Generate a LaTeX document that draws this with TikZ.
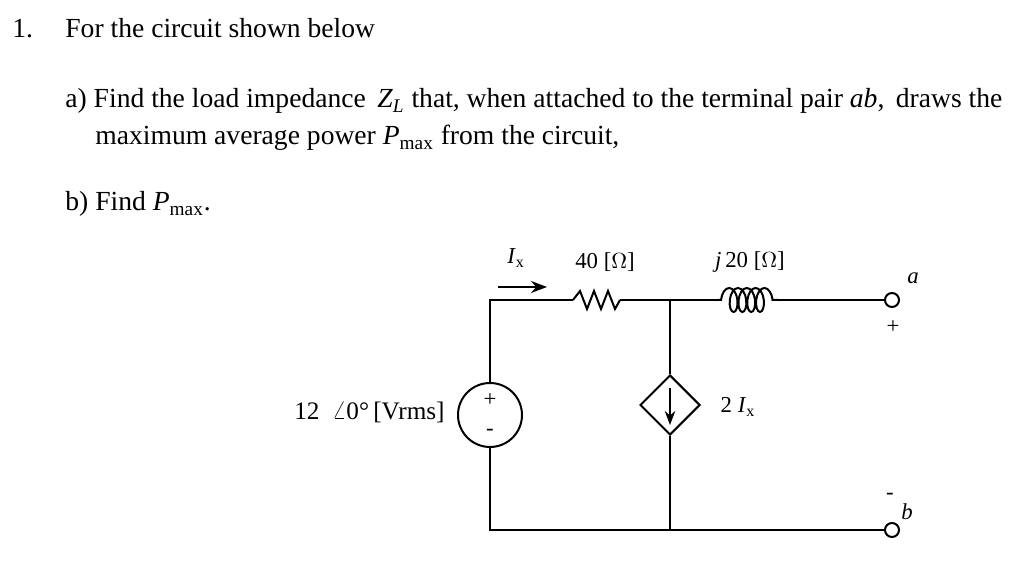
\documentclass[tikz,border=0pt]{standalone}
\usepackage{fontspec}
\setmainfont{Liberation Serif}
\usetikzlibrary{decorations.pathmorphing,arrows.meta,shapes.geometric}
\tikzset{
  txt/.style={anchor=base west,inner sep=0pt,font=\fontsize{13.8}{16}\selectfont},
  lbl/.style={inner sep=0pt,font=\fontsize{11.4}{13}\selectfont},
  wire/.style={line width=1pt},
  term/.style={circle,draw,line width=1pt,fill=white,minimum size=7pt,inner sep=0pt}
}
\begin{document}
\begin{tikzpicture}[x=0.5pt,y=-0.5pt]
    \useasboundingbox (0,0) rectangle (1024,587);
    % problem text
    \node[txt] (num) at (12,38) {1.};
    \node[txt] (head) at (65,38) {For the circuit shown below};
    \node[txt] (pa) at (65,108) {a) Find the load impedance \,\textit{Z}\textsubscript{\textit{L}} that, when attached to the terminal pair \textit{ab}, \,draws the};
    \node[txt] (pa2) at (95,145) {maximum average power \textit{P}\textsubscript{max} from the circuit,};
    \node[txt] (pb) at (65,211) {b) Find \textit{P}\textsubscript{max}.};

    % nodes of the circuit
    \coordinate (tl) at (490,300);
    \coordinate (bl) at (490,530);
    \coordinate (tm) at (670,300);
    \coordinate (bm) at (670,530);
    \node[circle,draw,line width=1pt,minimum size=32pt,inner sep=0pt] (src) at (490,415) {};
    \node[draw,diamond,line width=1pt,minimum size=30pt,inner sep=0pt,shape aspect=1] (cs) at (670,405) {};
    \node[term] (ta) at (892,300) {};
    \node[term] (tb) at (892,530) {};
    \coordinate (r1) at (573,300);
    \coordinate (r2) at (620,300);
    \coordinate (l1) at (718,300);
    \coordinate (l2) at (778,300);

    % wires
    \draw[wire] (src.north) -- (tl) -- (r1);
    \draw[wire] (r1) -- ++(7,-9) -- ++(7,18) -- ++(7,-18) -- ++(7,18) -- ++(7,-18) -- ++(7,18) -- (r2);
    \draw[wire] (r2) -- (tm) -- (l1);
    \draw[wire,decorate,decoration={coil,aspect=0.5,segment length=4.4pt,amplitude=6pt,pre length=1.5pt,post length=1.5pt}] (l1) -- (l2);
    \draw[wire] (l2) -- (ta.west);
    \draw[wire] (tm) -- (cs.north);
    \draw[wire] (cs.south) -- (bm);
    \draw[wire] (src.south) -- (bl) -- (bm) -- (tb.west);
    \draw[wire,-{Stealth[length=7pt]}] (670,388) -- (670,425);
    \draw[wire,-{Stealth[length=8pt]}] (498,287) -- (547,287);

    % labels
    \node[lbl] at (490,400) {+};
    \node[lbl] at (490,432) {-};
    \node[lbl,anchor=east,font=\fontsize{12.6}{14}\selectfont] (vs) at (445,412) {12 \ $\angle$0\textdegree\,[Vrms]};
    \node[lbl] (ix) at (516,258) {\textit{I}\textsubscript{x}};
    \node[lbl] (rl) at (605,262) {40 [$\Omega$]};
    \node[lbl] (ll) at (750,262) {\textit{j}\,20 [$\Omega$]};
    \node[lbl] (gl) at (738,407) {2 \textit{I}\textsubscript{x}};
    \node[lbl] (la) at (913,278) {\textit{a}};
    \node[lbl] at (893,327) {+};
    \node[lbl] at (890,496) {-};
    \node[lbl] (lb) at (907,512) {\textit{b}};
\end{tikzpicture}
\end{document}
